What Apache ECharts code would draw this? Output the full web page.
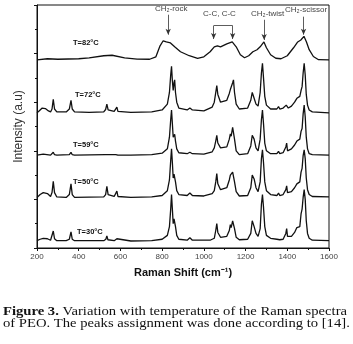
<!DOCTYPE html>
<html><head><meta charset="utf-8">
<script src="https://cdn.jsdelivr.net/npm/echarts@6/dist/echarts.min.js"></script>
<style>html,body{margin:0;padding:0;background:#fff}#c{width:353px;height:344px}</style>
</head><body><div id="c"></div>
<script>
// Raman shift tick labels (cm^-1)
const xTicks = [200, 400, 600, 800, 1000, 1200, 1400, 1600];
const seriesNames = ['T=30°C', 'T=50°C', 'T=59°C', 'T=72°C', 'T=82°C'];

// Each spectrum: [Raman shift (cm-1), intensity (a.u., vertically offset)]
const t30 = [[200,7.5],[215,9],[230,10],[250,9.5],[265,8],[272,10],[278,17.5],[284,9.5],[295,7.5],[340,7.5],[355,9],[363,16.5],[369,9],[380,7.5],[520,7.5],[530,9],[535,12.5],[540,8.5],[570,7.5],[578,8.8],[583,9.5],[588,7.5],[650,7.2],[750,7.5],[800,9],[825,13],[835,22],[841,40],[845,55],[849,40],[853,25],[857,30],[860,32],[864,22],[870,13],[880,9],[920,8],[933,10.5],[945,8],[1030,8],[1050,10],[1057,18],[1062,25],[1067,16],[1080,11],[1110,12],[1122,18],[1127,24],[1131,21],[1138,28],[1142,30],[1147,20],[1155,11],[1170,8.5],[1210,9],[1225,15],[1232,28],[1236,29],[1241,22],[1245,24],[1250,15],[1260,12],[1270,20],[1276,45],[1281,55],[1286,42],[1292,22],[1300,13],[1320,10],[1350,9],[1358,11],[1364,8.5],[1380,9],[1393,15],[1397,20],[1401,12],[1420,12],[1435,16],[1446,21],[1452,19],[1460,22],[1466,35],[1471,40],[1476,52],[1481,60],[1486,50],[1491,28],[1497,15],[1505,10],[1520,8],[1600,7.5]];
const t50 = [[200,52],[215,55],[230,57],[250,56],[265,53],[272,57],[278,68.5],[284,57],[295,52.5],[340,52],[355,55],[363,66],[369,55],[380,52],[520,52.5],[529,55],[535,63.5],[541,55],[570,53],[578,55],[583,58.5],[588,53],[650,52],[750,52.5],[800,54],[825,59],[835,70],[841,90],[845,102],[849,88],[853,72],[857,76],[860,78],[864,68],[870,59],[880,55],[920,54],[933,56.5],[945,54],[1000,53.5],[1040,56],[1050,59],[1057,68],[1062,76.5],[1067,66],[1080,60],[1110,62],[1122,70],[1127,75],[1131,73],[1138,78],[1142,79],[1147,68],[1155,58],[1170,53.5],[1210,54],[1225,62],[1232,75],[1236,76.5],[1241,71],[1245,70],[1250,62],[1260,58],[1270,68],[1276,92],[1281,101],[1286,88],[1292,68],[1300,59],[1320,55],[1350,54],[1358,56.5],[1364,54],[1380,55],[1393,60],[1397,64],[1401,57],[1420,58],[1435,62],[1446,66],[1452,64],[1460,68],[1466,78],[1471,82],[1476,95],[1481,101],[1486,92],[1491,72],[1497,60],[1505,55],[1520,53],[1600,52.5]];
const t59 = [[200,95.5],[230,96.5],[265,95.5],[272,96.5],[278,98.5],[284,96],[295,95.5],[355,96],[363,98.5],[369,96],[380,95.5],[528,96],[535,97.5],[541,96],[578,96],[583,96.8],[588,95.5],[650,95.5],[750,96],[800,97.5],[825,102],[835,114],[841,132],[845,142],[849,128],[853,114],[857,116],[860,117],[864,110],[870,102],[880,98],[920,97],[933,98.5],[945,97],[1000,96.5],[1040,99],[1050,103],[1057,110],[1062,116],[1067,108],[1080,103],[1110,104],[1122,112],[1127,117.5],[1131,115],[1138,124],[1142,126],[1147,112],[1155,100],[1170,96],[1210,97],[1225,105],[1232,116],[1236,117.5],[1241,112],[1245,110],[1250,103],[1260,100],[1270,112],[1276,132],[1281,142],[1286,128],[1292,108],[1300,100],[1320,97],[1350,97],[1358,99.5],[1364,97],[1380,98],[1393,104],[1397,108],[1401,100],[1420,102],[1435,106],[1446,110],[1452,108],[1460,112],[1466,120],[1471,123],[1476,138],[1481,147],[1486,135],[1491,114],[1497,102],[1505,97],[1520,96],[1600,95.5]];
const t72 = [[200,139],[210,141],[225,144],[240,143.5],[255,141],[265,140],[272,143],[278,153],[284,143],[295,140],[340,140],[355,143],[363,152],[369,143],[380,140],[450,139.5],[520,140],[529,142.5],[535,148],[541,142],[570,140.5],[578,142],[583,145],[588,140.5],[650,139.5],[750,140],[800,142],[825,148],[835,160],[841,178],[845,187],[849,172],[853,162],[857,170],[860,173],[864,160],[870,150],[880,144],[920,142],[933,144],[945,142],[1000,141],[1040,145],[1050,150],[1057,160],[1062,167],[1067,158],[1080,150],[1110,152],[1122,159],[1127,163],[1131,161],[1138,170],[1142,173],[1147,160],[1155,148],[1170,143],[1210,144],[1225,152],[1232,160],[1236,161],[1241,154],[1245,152],[1250,148],[1260,146],[1270,160],[1276,180],[1281,190],[1286,175],[1292,156],[1300,147],[1320,143],[1350,143],[1358,145.5],[1364,143],[1380,144],[1395,147],[1400,149],[1405,144],[1420,146],[1435,150],[1446,154],[1452,152],[1460,156],[1466,162],[1471,166],[1476,180],[1481,190],[1486,178],[1491,158],[1497,147],[1505,142],[1520,140],[1600,139]];
const t82 = [[200,193.6],[250,194.7],[300,194.2],[400,194.7],[450,195.7],[520,197.8],[560,198.3],[620,195.7],[680,194.4],[740,194.2],[770,196.7],[790,208],[805,213.2],[820,212],[840,211],[860,207],[888,201.9],[930,197.8],[970,195.2],[1000,196.7],[1030,201.9],[1050,207],[1065,208],[1080,207],[1110,210],[1136,212],[1155,207],[1175,198.8],[1195,195.7],[1215,197.8],[1235,201.9],[1255,204],[1270,207],[1288,212],[1300,206],[1320,198.8],[1345,195.2],[1370,194.7],[1400,197.8],[1430,206],[1450,212],[1465,214],[1480,217.8],[1492,212],[1505,204],[1525,197],[1550,193.7],[1600,193.6]];

// Peak assignment arrows: [x, yFrom, yTo]
const arrowRock = [829, 240, 219.5];
const arrowCC1 = [1047, 228.7, 215];
const arrowCC2 = [1138, 228.7, 215];
const arrowTwist = [1289, 234.8, 214];
const arrowScissor = [1478, 238, 219.5];

const chart = echarts.init(document.getElementById('c'), null, {renderer: 'canvas'});
const lineStyle = {color: '#111', width: 1.3};
const spectra = [t30, t50, t59, t72, t82];

function arrow(a) {
  return [{coord: [a[0], a[1]], symbol: 'none'}, {coord: [a[0], a[2]], symbol: 'arrow', symbolSize: [4, 6]}];
}

const series = spectra.map((d, i) => ({
  name: seriesNames[i], type: 'line', data: d, showSymbol: false, symbol: 'none',
  lineStyle: lineStyle, silent: true, z: 3
}));
series[4].markLine = {
  silent: true, symbol: ['none', 'none'], label: {show: false},
  lineStyle: {color: '#333', width: 0.8, type: 'solid'},
  data: [
    arrow(arrowRock), arrow(arrowCC1), arrow(arrowCC2), arrow(arrowTwist), arrow(arrowScissor),
    [{coord: [arrowCC1[0], arrowCC1[1]], symbol: 'none'}, {coord: [arrowCC2[0], arrowCC2[1]], symbol: 'none'}]
  ]
};

const tLabel = (text, x, y) => ({type: 'text', left: x, top: y, style: {text: text, font: 'bold 7.5px Arial, "Liberation Sans"', fill: '#111'}});
const aLabel = (text, x, y) => ({type: 'text', left: x, top: y, style: {text: text, font: '8px Arial, "Liberation Sans"', fill: '#444'}});
const serif = '"Liberation Serif", "Times New Roman", serif';

chart.setOption({
  animation: false,
  backgroundColor: '#fff',
  grid: {left: 37, right: 24, top: 5, bottom: 96, show: true, borderColor: '#111', borderWidth: 1, backgroundColor: 'transparent'},
  xAxis: {
    type: 'value', min: 200, max: 1600, interval: 200,
    name: 'Raman Shift (cm⁻¹)', nameLocation: 'middle', nameGap: 19,
    nameTextStyle: {fontFamily: 'Arial, "Liberation Sans"', fontWeight: 'bold', fontSize: 11, color: '#111'},
    axisLine: {lineStyle: {color: '#111', width: 1}},
    axisTick: {show: true, inside: false, length: 3, lineStyle: {color: '#111'}},
    minorTick: {show: true, splitNumber: 2, length: 2, lineStyle: {color: '#111'}},
    axisLabel: {fontSize: 8, color: '#444', margin: 5, fontFamily: 'Arial, "Liberation Sans"',
      formatter: v => xTicks.includes(v) ? String(v) : ''},
    splitLine: {show: false}
  },
  yAxis: {
    type: 'value', min: 0, max: 250, interval: 50,
    name: 'Intensity (a.u)', nameLocation: 'middle', nameGap: 12,
    nameTextStyle: {fontFamily: 'Arial, "Liberation Sans"', fontSize: 12, color: '#333'},
    axisLine: {show: true, lineStyle: {color: '#111', width: 1}},
    axisTick: {show: true, inside: false, length: 3, lineStyle: {color: '#111'}},
    minorTick: {show: true, splitNumber: 2, length: 2, lineStyle: {color: '#111'}},
    axisLabel: {show: false},
    splitLine: {show: false}
  },
  series: series,
  graphic: [
    tLabel('T=82°C', 73, 39),
    tLabel('T=72°C', 75, 91),
    tLabel('T=59°C', 73, 141),
    tLabel('T=50°C', 73, 178),
    tLabel('T=30°C', 77, 228),
    aLabel('CH₂-rock', 155, 5),
    aLabel('C-C, C-C', 203, 10),
    aLabel('CH₂-twist', 251, 10),
    aLabel('CH₂-scissor', 285, 6),
    {type: 'text', x: 3, y: 306, scaleX: 1.22, style: {
      x: 0, y: 0, verticalAlign: 'top',
      rich: {b: {font: 'bold 12px ' + serif, fill: '#111'},
             n: {font: '12px ' + serif, fill: '#111'}},
      text: '{b|Figure 3.}{n| Variation with temperature of the Raman spectra}'}},
    {type: 'text', x: 3, y: 318, scaleX: 1.22, style: {
      x: 0, y: 0, verticalAlign: 'top',
      text: 'of PEO. The peaks assignment was done according to [14].',
      font: '12px ' + serif, fill: '#111'}}
  ]
});
</script></body></html>
